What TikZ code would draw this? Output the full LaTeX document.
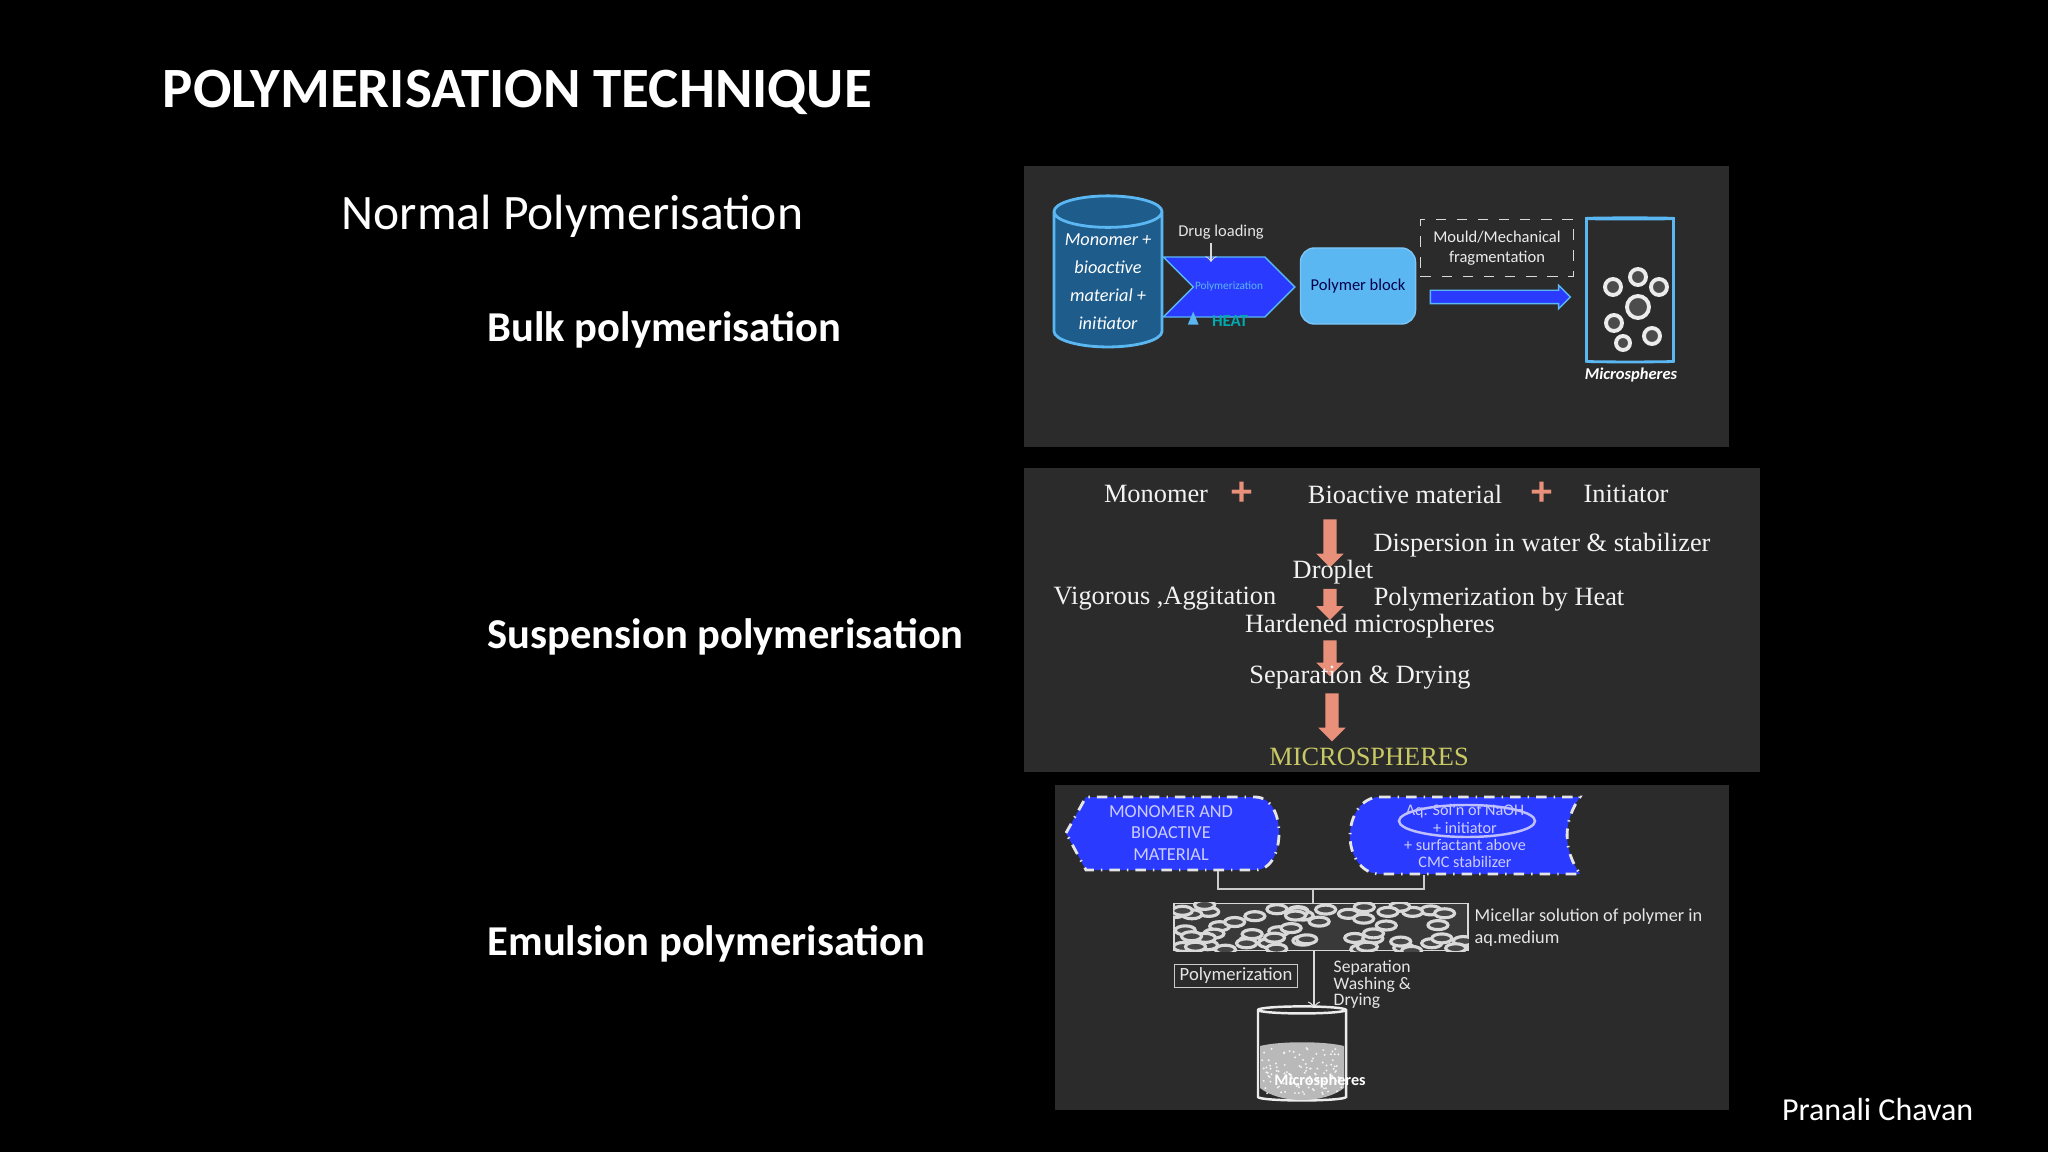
\documentclass[tikz,border=0pt]{standalone}
\usepackage{fontspec}
\setmainfont{Carlito}
\newfontfamily\serifp{Liberation Serif}
\usetikzlibrary{positioning,shapes.geometric,shapes.symbols,shapes.arrows}

\definecolor{panel}{HTML}{2B2B2B}
\definecolor{deepblue}{HTML}{2A3BFF}
\definecolor{lightblue}{HTML}{5BB7F2}
\definecolor{tankblue}{HTML}{1E5C8C}
\definecolor{salmon}{HTML}{E8907A}
\definecolor{olive}{HTML}{C8C864}

\tikzset{
  heading/.style={text=white,font=\bfseries\fontsize{12.1}{14}\selectfont,anchor=west,inner sep=0pt},
  tank/.style={cylinder,shape border rotate=90,aspect=0.35,draw=lightblue,line width=0.8pt,inner sep=0.5pt},
  small/.style={text=white,font=\fontsize{4.7}{5.8}\selectfont,align=center},
  susptext/.style={text=white!90!gray,font=\serifp\fontsize{7.5}{9}\selectfont},
  down/.style={single arrow,shape border rotate=270,fill=salmon,inner sep=0.06cm,
    single arrow head extend=0.07cm,single arrow head indent=0pt},
  plus/.style={text=salmon,font=\bfseries\fontsize{12}{12}\selectfont},
  tiny/.style={text=white!80!gray,font=\fontsize{5.2}{6.2}\selectfont,align=left},
  dashbox/.style={draw=white!80!gray,dash dot,line width=0.8pt,fill=deepblue},
  sphere/.style={draw=white!85!gray,line width=1.1pt,fill=gray!60!black}
}

\begin{document}
\begin{tikzpicture}[x=0.01cm,y=-0.01cm]
  \fill[black] (0,0) rectangle (2048,1152);
  \useasboundingbox (0,0) rectangle (2048,1152);

  % slide texts
  \node[heading,font=\bfseries\fontsize{16.2}{18}\selectfont] (title) at (162,92) {POLYMERISATION TECHNIQUE};
  \node[heading,font=\fontsize{14.1}{16}\selectfont] (normal) at (341,216) {Normal Polymerisation};
  \node[heading] (bulk) at (487,330) {Bulk polymerisation};
  \node[heading] (susp) at (487,637) {Suspension polymerisation};
  \node[heading] (emul) at (487,944) {Emulsion polymerisation};
  \node[text=white,font=\fontsize{9.1}{11}\selectfont,anchor=east,inner sep=0pt] (author) at (1974,1110) {Pranali Chavan};

  % bulk panel
  \fill[panel] (1024,166) rectangle (1729,447);
  \node[tank,fill=tankblue,minimum width=1.08cm,minimum height=1.51cm,
        small,font=\itshape\fontsize{5.2}{8}\selectfont] (mono) at (1108,282)
        {Monomer +\\bioactive\\material +\\initiator};
  \node[signal,signal from=west,signal to=east,fill=deepblue,draw=lightblue,inner sep=0.5pt,
        minimum width=1.28cm,minimum height=0.6cm,small,font=\fontsize{3.2}{4}\selectfont,
        text=lightblue] (poly) at (1229,287) {Polymerization};
  \node[small,text=white!80!gray] (drug) at (1221,232) {Drug loading};
  \coordinate (drugend) at (1211,262);
  \draw[->,white!70!gray,line width=0.3pt] (1211,243) -- (drugend);
  \node[small,text=cyan!60!green,font=\bfseries\fontsize{4.8}{5}\selectfont] (heat) at (1230,321) {HEAT};
  \node[isosceles triangle,shape border rotate=90,fill=lightblue,inner sep=0pt,
        minimum width=0.09cm,minimum height=0.13cm,left=0.5pt of heat] (tri) {};
  \node[rounded corners=4pt,fill=lightblue,draw=lightblue!80!white,minimum width=1.15cm,
        minimum height=0.76cm,inner sep=1pt,font=\fontsize{4.7}{5.5}\selectfont,text=black!70!blue] (block) at (1358,286) {Polymer block};
  \node[draw=white!70!gray,dashed,minimum width=1.53cm,minimum height=0.57cm,small,inner sep=1pt,
        text=white!85!gray] (mould) at (1497,248) {Mould/Mechanical\\fragmentation};
  \node[single arrow,fill=deepblue,draw=lightblue,minimum height=1.4cm,inner sep=0.06cm,
        single arrow head extend=0.05cm] (frag) at (1497,297) {};
  \node[tank,fill=panel,minimum width=0.87cm,minimum height=1.44cm] (cup) at (1630,291) {};
  \foreach \px/\py/\r in {1613/287/0.08,1638/277/0.08,1659/287/0.08,1638/307/0.11,
                          1614/323/0.08,1652/336/0.08,1623/343/0.07}
    \draw[sphere] (\px,\py) circle[radius=\r cm];
  \node[small,font=\bfseries\itshape\fontsize{4.7}{5}\selectfont] (msp) at (1631,375) {Microspheres};

  % suspension panel
  \fill[panel] (1024,468) rectangle (1760,772);
  \node[susptext] (monomer) at (1156,494) {Monomer};
  \node[plus] (p1) at (1242,494) {+};
  \node[susptext] (bio) at (1405,494) {Bioactive material};
  \node[plus] (p2) at (1542,494) {+};
  \node[susptext] (init) at (1626,494) {Initiator};
  \node[down,minimum height=0.48cm] (a1) at (1330,540) {};
  \node[susptext] (disp) at (1542,545) {Dispersion in water \& stabilizer};
  \node[susptext] (drop) at (1333,572) {Droplet};
  \node[down,minimum height=0.31cm] (a2) at (1330,601) {};
  \node[susptext] (vig) at (1165,599) {Vigorous ,Aggitation};
  \node[susptext] (byheat) at (1499,599) {Polymerization by Heat};
  \node[susptext] (hard) at (1370,626) {Hardened microspheres};
  \node[down,minimum height=0.36cm] (a3) at (1330,655) {};
  \node[susptext] (sep) at (1360,678) {Separation \& Drying};
  \node[down,minimum height=0.48cm] (a4) at (1332,714) {};
  \node[susptext,text=olive] (final) at (1369,757) {MICROSPHERES};

  % emulsion panel
  \fill[panel] (1055,785) rectangle (1729,1110);
  \draw[dashbox] (1066,833) -- (1086,797) -- (1255,797) to[out=0,in=90] (1279,833)
     to[out=-90,in=0] (1255,870) -- (1086,870) -- cycle;
  \node[small,text=white!80!blue,font=\fontsize{5.2}{6.2}\selectfont] (monbio) at (1171,833)
     {MONOMER AND\\BIOACTIVE\\MATERIAL};
  \draw[dashbox] (1380,797) -- (1580,797) to[out=-125,in=125] (1580,874) -- (1380,874)
     to[out=180,in=-90] (1350,836) to[out=90,in=180] (1380,797);
  \node[small,text=white!80!blue,font=\fontsize{4.6}{4.9}\selectfont] (naoh) at (1465,836)
     {Aq. Sol'n of NaOH\\+ initiator\\+ surfactant above\\CMC stabilizer};
  \draw[white!75!blue,line width=0.7pt] (1467,821) ellipse[x radius=68,y radius=16];
  \coordinate (lb) at (1218,871);
  \coordinate (rb) at (1424,875);
  \coordinate (jn) at (1313,889);
  \draw[white!60!gray,line width=0.4pt] (lb) |- (jn) -| (rb);
  \node[fill=gray!45!black,draw=white!70!gray,minimum width=2.94cm,minimum height=0.47cm,
        inner sep=0pt] (mic) at (1321,927) {};
  \begin{scope}
    \clip (mic.south west) rectangle (mic.north east);
    \pgfmathsetseed{7}
    \foreach \i in {1,...,55}{
      \pgfmathsetmacro{\ex}{1174+294*rnd}
      \pgfmathsetmacro{\ey}{904+47*rnd}
      \draw[white!70!gray,line width=0.9pt,fill=gray!55!black] (\ex,\ey) ellipse[x radius=10,y radius=4.5];
    }
  \end{scope}
  \draw[white!60!gray,line width=0.4pt] (jn) -- (mic.north -| jn);
  \node[tiny,anchor=north west,inner sep=0pt] (micl) at (1474,908) {Micellar solution of polymer in\\aq.medium};
  \node[draw=white!60!gray,minimum width=1.23cm,minimum height=0.23cm,tiny,inner sep=1pt,
        font=\fontsize{5.3}{6}\selectfont] (polbox) at (1236,976) {Polymerization};
  \node[tiny,anchor=north west,inner sep=0pt,font=\fontsize{5}{4.6}\selectfont] (sepw) at (1333,960) {Separation\\Washing \&\\Drying};
  \coordinate (top) at (1314,1008);
  \draw[->,white!70!gray,line width=0.4pt] (mic.south -| top) -- (top);
  \node[cylinder,shape border rotate=90,aspect=0.3,draw=white!85!gray,line width=0.7pt,
        fill=panel,minimum width=0.88cm,minimum height=0.94cm] (beaker) at (1302,1057) {};
  \fill[gray!55!white] (1260,1046) .. controls (1280,1041) and (1324,1041) .. (1344,1046)
     -- (1344,1088) .. controls (1324,1104) and (1280,1104) .. (1260,1088) -- cycle;
  \pgfmathsetseed{3}
  \foreach \i in {1,...,110}
    \fill[white!90!gray] (1262+80*rnd,1047+48*rnd) circle[radius=0.011cm];
  \node[tiny,text=white,font=\bfseries\fontsize{4.6}{5}\selectfont] (bl) at (1320,1081) {Microspheres};
\end{tikzpicture}
\end{document}
